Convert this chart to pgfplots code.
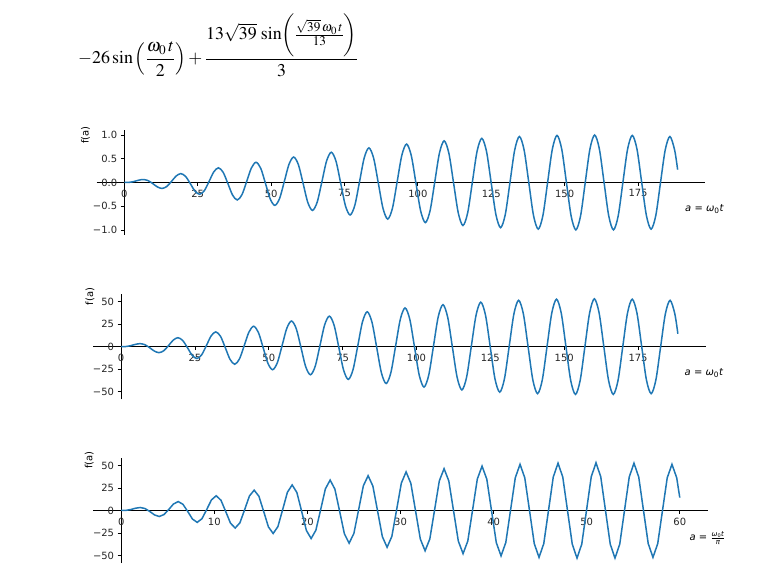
\documentclass[border=0pt]{standalone}
\usepackage{mathptmx}
\usepackage[no-math]{fontspec}
\usepackage{pgfplots}
\usepackage{pgfplotstable}
\pgfplotsset{compat=1.18}
\newfontfamily\dejavu{DejaVu Sans}
\definecolor{mplblue}{HTML}{1F77B4}

\pgfplotstableread{
a f
0 0
1.6022 0.161
3.2044 1.061
4.8067 2.518
6.4089 3.333
8.0111 2.197
9.6133 -1.057
11.2156 -4.865
12.8178 -6.653
14.4200 -4.546
16.0222 1.049
17.6245 7.193
19.2267 9.947
20.8289 6.877
22.4311 -1.036
24.0334 -9.492
25.6356 -13.201
27.2378 -9.181
28.8400 1.020
30.4423 11.755
32.0445 16.404
33.6467 11.448
35.2489 -0.999
36.8512 -13.970
38.4534 -19.541
40.0556 -13.670
41.6578 0.974
43.2600 16.130
44.8623 22.602
46.4645 15.839
48.0667 -0.946
49.6689 -18.226
51.2712 -25.573
52.8734 -17.944
54.4756 0.914
56.0778 20.251
57.6801 28.443
59.2823 19.980
60.8845 -0.878
62.4867 -22.196
64.0890 -31.200
65.6912 -21.936
67.2934 0.839
68.8956 24.054
70.4979 33.835
72.1001 23.805
73.7023 -0.796
75.3045 -25.815
76.9068 -36.336
78.5090 -25.580
80.1112 0.751
81.7134 27.475
83.3156 38.693
84.9179 27.255
86.5201 -0.702
88.1223 -29.026
89.7245 -40.898
91.3268 -28.821
92.9290 0.650
94.5312 30.463
96.1334 42.940
97.7357 30.275
99.3379 -0.596
100.9401 -31.780
102.5423 -44.814
104.1446 -31.607
105.7468 0.540
107.3490 32.971
108.9512 46.510
110.5535 32.816
112.1557 -0.482
113.7579 -34.032
115.3601 -48.023
116.9624 -33.894
118.5646 0.421
120.1668 34.958
121.7690 49.346
123.3712 34.840
124.9735 -0.359
126.5757 -35.747
128.1779 -50.474
129.7801 -35.647
131.3824 0.296
132.9846 36.394
134.5868 51.402
136.1890 36.313
137.7913 -0.231
139.3935 -36.897
140.9957 -52.128
142.5979 -36.836
144.2002 0.166
145.8024 37.254
147.4046 52.648
149.0068 37.214
150.6091 -0.099
152.2113 -37.464
153.8135 -52.960
155.4157 -37.444
157.0180 0.033
158.6202 37.527
160.2224 53.062
161.8246 37.527
163.4268 0.034
165.0291 -37.441
166.6313 -52.955
168.2335 -37.461
169.8357 -0.101
171.4380 37.207
173.0402 52.639
174.6424 37.248
176.2446 0.167
177.8469 -36.827
179.4491 -52.115
181.0513 -36.888
182.6535 -0.232
184.2558 36.301
185.8580 51.385
187.4602 36.381
188.4956 14.31
}\sig

\pgfplotsset{
  myax/.style={
    scale only axis,
    anchor=south west,
    axis lines=middle,
    axis line style={-, black, line width=0.8bp},
    xmin=-9.4248, xmax=197.92,
    ymin=-58.4, ymax=58.4,
    tick align=outside,
    major tick length=3.5bp,
    every tick/.style={black, line width=0.8bp},
    hide obscured x ticks=false,
    hide obscured y ticks=false,
    ticklabel style={font=\dejavu\fontsize{10}{12}\selectfont, text=black!85},
    xticklabel style={anchor=north, inner sep=0pt, yshift=-3.5bp},
    yticklabel style={anchor=east, inner sep=0pt, xshift=-3.5bp},
    clip=false,
  },
  sig/.style={mplblue, line width=1.5bp},
}

\begin{document}
\begin{tikzpicture}
\useasboundingbox (0,0) rectangle (779bp,588bp);
\fill[white] (0,0) rectangle (779bp,588bp);

\node[anchor=base west, inner sep=0pt] at (78bp,524.2bp) {\fontsize{18}{22}\selectfont
$\displaystyle -26\sin\left(\frac{\omega_{0}\mkern2mu t}{2}\right)+\frac{13\sqrt{39}\,\sin\biggl(\frac{\sqrt{39}\,\omega_{0}\mkern2mu t}{13}\biggr)}{3}$};

% Plot 1
\begin{axis}[myax, at={(96.7bp,353.25bp)}, width=608.6bp, height=104.5bp,
  xtick={0,25,50,75,100,125,150,175},
  xticklabels={0,25,50,75,100,125,150,175},
  ytick={-53.062,-26.531,0,26.531,53.062},
  yticklabels={−1.0,−0.5,0.0,0.5,1.0}]
\addplot[sig, smooth] table[x=a,y=f]{\sig};
\end{axis}

% Plot 2
\begin{axis}[myax, at={(93.3bp,188.7bp)}, width=612.4bp, height=105.3bp,
  xtick={0,25,50,75,100,125,150,175},
  xticklabels={0,25,50,75,100,125,150,175},
  ytick={-50,-25,0,25,50},
  yticklabels={−50,−25,0,25,50}]
\addplot[sig, smooth] table[x=a,y=f]{\sig};
\end{axis}

% Plot 3
\begin{axis}[myax, at={(93.3bp,25bp)}, width=614.4bp, height=105bp,
  xtick={0,31.4159,62.8319,94.2478,125.6637,157.0796,188.4956},
  xticklabels={0,10,20,30,40,50,60},
  ytick={-50,-25,0,25,50},
  yticklabels={−50,−25,0,25,50}]
\addplot[sig] table[x=a,y=f]{\sig};
\end{axis}

\node[rotate=90] at (85.5bp,453bp) {\dejavu\fontsize{10}{12}\selectfont f(a)};
\node[rotate=90] at (90bp,291.5bp) {\dejavu\fontsize{10}{12}\selectfont f(a)};
\node[rotate=90] at (89.3bp,128bp) {\dejavu\fontsize{10}{12}\selectfont f(a)};

\node at (704.5bp,379bp) {\dejavu\fontsize{10}{12}\selectfont\textit{a} = \textit{ω}\textsubscript{0}\textit{t}};
\node at (704bp,215bp) {\dejavu\fontsize{10}{12}\selectfont\textit{a} = \textit{ω}\textsubscript{0}\textit{t}};
\node at (707.5bp,50bp) {\dejavu\fontsize{10}{12}\selectfont\textit{a} = $\frac{\hbox{\dejavu\fontsize{7}{8}\selectfont\textit{ω}\textsubscript{0}\textit{t}}}{\hbox{\dejavu\fontsize{7}{8}\selectfont\textit{π}}}$};
\end{tikzpicture}
\end{document}
